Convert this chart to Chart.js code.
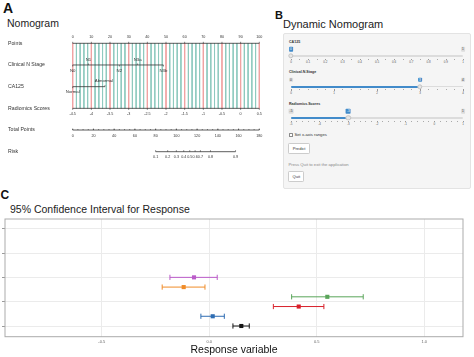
<!DOCTYPE html>
<html><head><meta charset="utf-8">
<script src="https://cdn.jsdelivr.net/npm/chart.js@4.4.1/dist/chart.umd.min.js"></script>
<style>
html,body{margin:0;padding:0;background:#fff;}
body{width:474px;height:357px;position:relative;overflow:hidden;font-family:"Liberation Sans",Arial,Helvetica,sans-serif;color:#222;}
.t{position:absolute;white-space:nowrap;line-height:1;}
canvas{position:absolute;}
#panelB{position:absolute;left:283px;top:33px;width:186px;height:154px;background:#f5f5f5;border:1px solid #e3e3e3;border-radius:2px;}
.c{position:absolute;white-space:nowrap;line-height:1;transform:translate(-50%,-50%);}
.l{position:absolute;white-space:nowrap;line-height:1;transform:translate(0,-50%);}
.b{position:absolute;}
</style></head><body>
<div class="t" style="left:3px;top:1.4px;font-size:14px;font-weight:bold;color:#111;">A</div>
<div class="t" style="left:7px;top:17.9px;font-size:10.5px;">Nomogram</div>
<div class="t" style="left:275px;top:9.6px;font-size:11px;font-weight:bold;color:#111;">B</div>
<div class="t" style="left:283px;top:18.8px;font-size:11px;">Dynamic Nomogram</div>
<div class="t" style="left:0.5px;top:189.1px;font-size:12px;font-weight:bold;color:#111;">C</div>
<div class="t" style="left:10px;top:203.9px;font-size:10.5px;">95% Confidence Interval for Response</div>
<canvas id="nomo" width="270" height="172" style="left:0;top:0;width:270px;height:172px"></canvas>
<div id="panelB"></div>
<canvas id="ci" width="474" height="143" style="left:0;top:214px;width:474px;height:143px"></canvas>
<script>
const FONT = '"Liberation Sans", Arial, sans-serif';

// ---------- Panel A: nomogram data ----------
const rowLabels = ['Points','Clinical N Stage','CA125','Radiomics Scores','Total Points','Risk'];
const pointsTicks = [0,10,20,30,40,50,60,70,80,90,100];
const gridPoints = [0,2,4,6,8,10,12,14,16,18,20,22,24,26,28,30,32,34,36,38,40,42,44,46,48,50,52,54,56,58,60,62,64,66,68,70,72,74,76,78,80,82,84,86,88,90,92,94,96,98,100];
const clinicalLevels = ['N0','N1','N2','N3a','N3b'];
const clinicalPoints = [0,8.4,25,34.8,48.6];
const ca125Levels = ['Normal','Abnormal'];
const ca125Points = [0,17.3];
const radiomicsTicks = [-4.5,-4,-3.5,-3,-2.5,-2,-1.5,-1,-0.5,0,0.5];
const totalPointsTicks = [0,20,40,60,80,100,120,140,160,180];
const riskLabels = ['0.1','0.2','0.3','0.4','0.5','0.6','0.7','0.8','0.9'];
const riskTotalPoints = [80,91.6,100,107.1,112.9,118.1,123.2,132.9,157.1];

// ---------- Panel B: dynamic nomogram inputs ----------
const sliderNames = ['CA125','Clinical.N.Stage','Radiomics.Scores'];
const sliderMin = [0,0,-5];
const sliderMax = [1,4,1];
const sliderValue = [0,3,-3];
const sliderTicks = [[0,0.1,0.2,0.3,0.4,0.5,0.6,0.7,0.8,0.9,1],[0,1,2,3,4],[-5,-4,-3,-2,-1,0,1]];

// ---------- Panel C: confidence intervals ----------
const ciRows = [1,2,3,4,5,6];
const ciEstimate = [0.149,0.016,0.416,0.549,-0.119,-0.071];
const ciLower = [0.110,-0.039,0.298,0.383,-0.219,-0.183];
const ciUpper = [0.186,0.070,0.533,0.716,-0.020,0.037];
const ciGridY = [1,3.5,6,8.5,11];
const ciColors = ['#151515','#2f6db3','#d8202b','#5aa55a','#f08c28','#bb5cc9'];

// ===== Panel A chart =====
function seg(axisId, xs, ys, color, width){
  return {data: xs.map((x,k)=>({x:x, y:ys[k]})), xAxisID: axisId, yAxisID:'y', showLine:true,
    borderColor:color, borderWidth:width, pointRadius:0, clip:false, fill:false};
}
const axisColor = '#333';
const axisDatasets = [
  seg('x', [pointsTicks[0], pointsTicks[pointsTicks.length-1]], [rowLabels[0],rowLabels[0]], axisColor, 0.8),
  seg('x', [clinicalPoints[0], clinicalPoints[clinicalPoints.length-1]], [rowLabels[1],rowLabels[1]], axisColor, 0.8),
  seg('x', [ca125Points[0], ca125Points[ca125Points.length-1]], [rowLabels[2],rowLabels[2]], axisColor, 0.8),
  seg('xRad', [radiomicsTicks[0], radiomicsTicks[radiomicsTicks.length-1]], [rowLabels[3],rowLabels[3]], axisColor, 0.8),
  seg('xTot', [totalPointsTicks[0], totalPointsTicks[totalPointsTicks.length-1]], [rowLabels[4],rowLabels[4]], axisColor, 0.8),
  seg('xTot', [riskTotalPoints[0], riskTotalPoints[riskTotalPoints.length-1]], [rowLabels[5],rowLabels[5]], axisColor, 0.8)
];
const gridDatasets = gridPoints.map(p => seg('x', [p,p], [rowLabels[0], rowLabels[3]], (p % 10 === 0) ? '#f0a3a3' : '#8fcabf', 1));

const nomoPlugin = {
  id: 'nomoTicks',
  afterDatasetsDraw(chart){
    const {ctx, scales} = chart;
    const xP = scales.x, xR = scales.xRad, xT = scales.xTot, yS = scales.y;
    const rowY = i => yS.getPixelForValue(i);
    const numFont = '3.7px ' + FONT, catFont = '4.3px ' + FONT;
    ctx.save();
    ctx.strokeStyle = axisColor; ctx.lineWidth = 0.6; ctx.fillStyle = '#333';
    ctx.textAlign = 'center'; ctx.textBaseline = 'middle';
    const tick = (x, y0, len) => { ctx.beginPath(); ctx.moveTo(x, y0); ctx.lineTo(x, y0 + len); ctx.stroke(); };
    const text = (s, x, y, f) => { ctx.font = f; ctx.fillText(s, x, y); };
    let ry = rowY(0);
    pointsTicks.forEach(v => { const px = xP.getPixelForValue(v); tick(px, ry, -1.5); text(String(v), px, ry - 6, numFont); });
    ry = rowY(1);
    clinicalLevels.forEach((lab, i) => { const px = xP.getPixelForValue(clinicalPoints[i]); const up = i % 2 === 1;
      tick(px, ry, up ? -1.5 : 1.5); text(lab, px, up ? ry - 5.3 : ry + 5.4, catFont); });
    ry = rowY(2);
    ca125Levels.forEach((lab, i) => { const px = xP.getPixelForValue(ca125Points[i]); const up = i % 2 === 1;
      tick(px, ry, up ? -1.5 : 1.5); text(lab, up ? px - 1 : px, up ? ry - 5.6 : ry + 5.4, catFont); });
    ry = rowY(3);
    radiomicsTicks.forEach(v => { const px = xR.getPixelForValue(v); tick(px, ry, 1.5); text(String(v), px, ry + 5.3, numFont); });
    ry = rowY(4);
    for (let v = totalPointsTicks[0]; v <= totalPointsTicks[totalPointsTicks.length-1]; v += 5) {
      tick(xT.getPixelForValue(v), ry, -1);
    }
    totalPointsTicks.forEach(v => { const px = xT.getPixelForValue(v); tick(px, ry, -1.5); text(String(v), px, ry + 6.4, numFont); });
    ry = rowY(5);
    riskTotalPoints.forEach((v, i) => { const px = xT.getPixelForValue(v); tick(px, ry, -1.5); text(riskLabels[i], px, ry + 5, numFont); });
    ctx.restore();
  }
};

new Chart(document.getElementById('nomo'), {
  type: 'scatter',
  data: { datasets: axisDatasets.concat(gridDatasets) },
  options: {
    responsive: false, animation: false, events: [],
    layout: { padding: { left: 8, right: 10.7, top: 43.3, bottom: 20.3 } },
    plugins: { legend: { display: false }, tooltip: { enabled: false }, title: { display: false } },
    scales: {
      x: { type: 'linear', min: 0, max: 100, display: false },
      xRad: { type: 'linear', axis: 'x', position: 'bottom', min: -4.5, max: 0.5, display: false },
      xTot: { type: 'linear', axis: 'x', position: 'bottom', min: 0, max: 180, display: false },
      y: { type: 'category', labels: rowLabels, offset: false, position: 'left',
        grid: { display: false, drawTicks: false }, border: { display: false },
        ticks: { crossAlign: 'far', color: '#333', font: { size: 5.2, family: FONT }, padding: 0, autoSkip: false },
        afterFit: s => { s.width = 64.7; } }
    }
  },
  plugins: [nomoPlugin]
});

// ===== Panel B (Shiny-like inputs) =====
const B = document.getElementById('panelB');
const OX = 284, OY = 34;
function el(cls, x, y, html, style){
  const d = document.createElement('div'); d.className = cls;
  d.style.left = (x - OX) + 'px'; d.style.top = (y - OY) + 'px';
  d.innerHTML = html; Object.assign(d.style, style || {}); B.appendChild(d); return d;
}
const trackX0 = 291, trackX1 = 463;
const sliderRowY = [42.7, 73.3, 104.5];
const minorPerGap = [1, 4, 4];
sliderNames.forEach((name, i) => {
  const L = sliderRowY[i];
  const toX = v => trackX0 + (v - sliderMin[i]) / (sliderMax[i] - sliderMin[i]) * (trackX1 - trackX0);
  el('l', 289, L, name, { fontSize: '3.6px', fontWeight: 'bold', color: '#333' });
  const bub = { fontSize: '3.2px', padding: '0.6px 1px', borderRadius: '0.8px' };
  if (sliderValue[i] !== sliderMin[i]) el('c', trackX0, L + 6.7, String(sliderMin[i]), Object.assign({}, bub, { background: 'rgba(0,0,0,0.1)', color: '#333' }));
  if (sliderValue[i] !== sliderMax[i]) el('c', trackX1, L + 6.7, String(sliderMax[i]), Object.assign({}, bub, { background: 'rgba(0,0,0,0.1)', color: '#333' }));
  const tY = L + 13.3;
  el('b', trackX0, tY - 0.9, '', { width: (trackX1 - trackX0) + 'px', height: '1.8px', background: '#dcdcdc', borderRadius: '1px' });
  const vx = toX(sliderValue[i]);
  el('b', trackX0, tY - 1, '', { width: (vx - trackX0) + 'px', height: '2px', background: '#428bca', borderRadius: '1px' });
  // grid ticks
  const tk = sliderTicks[i];
  tk.forEach((v, k) => {
    const x = toX(v);
    el('b', x - 0.25, L + 16, '', { width: '0.5px', height: '1.6px', background: '#999' });
    el('c', x, L + 19.4, String(v), { fontSize: '3px', color: '#555' });
    if (k < tk.length - 1) {
      const n = minorPerGap[i];
      for (let m = 1; m <= n; m++) {
        const xm = x + (toX(tk[k + 1]) - x) * m / (n + 1);
        el('b', xm - 0.25, L + 16, '', { width: '0.5px', height: '0.9px', background: '#aaa' });
      }
    }
  });
  el('c', vx, tY, '', { width: '5.4px', height: '5.4px', borderRadius: '50%', background: '#e6e6e6', border: '0.7px solid #c4c4c4', boxSizing: 'border-box', transform: 'translate(-50%,-50%)' });
  el('c', vx, L + 6.7, String(sliderValue[i]), Object.assign({}, bub, { background: '#428bca', color: '#fff' }));
});
el('b', 289, 133.2, '', { width: '3.6px', height: '3.6px', background: '#fff', border: '0.6px solid #8a8a8a', borderRadius: '0.5px', boxSizing: 'border-box' });
el('l', 294.5, 135, 'Set x-axis ranges', { fontSize: '4.2px', color: '#333' });
el('b', 288.3, 143.3, '<div style="position:absolute;left:50%;top:50%;transform:translate(-50%,-50%);white-space:nowrap;line-height:1;">Predict</div>', { width: '21.7px', height: '10.7px', background: '#fff', border: '0.5px solid #ccc', borderRadius: '1.2px', boxSizing: 'border-box', fontSize: '4.1px', color: '#333' });
el('l', 288.5, 165, 'Press Quit to exit the application', { fontSize: '4.2px', color: '#888' });
el('b', 288.3, 171.2, '<div style="position:absolute;left:50%;top:50%;transform:translate(-50%,-50%);white-space:nowrap;line-height:1;">Quit</div>', { width: '16px', height: '10.8px', background: '#fff', border: '0.5px solid #ccc', borderRadius: '1.2px', boxSizing: 'border-box', fontSize: '4.1px', color: '#333' });

// ===== Panel C chart =====
const intervalDatasets = ciRows.map((r, i) => ({
  data: [{ x: ciLower[i], y: r }, { x: ciUpper[i], y: r }], showLine: true,
  borderColor: ciColors[i], borderWidth: 1, pointStyle: 'line', pointRotation: 90, pointRadius: 2.6,
  pointBorderColor: ciColors[i], pointBorderWidth: 1, clip: false
}));
const estimateDatasets = ciRows.map((r, i) => ({
  data: [{ x: ciEstimate[i], y: r }], pointStyle: 'rect', pointRadius: 2.9,
  pointBackgroundColor: ciColors[i], pointBorderColor: ciColors[i], pointBorderWidth: 0, clip: false
}));
const framePlugin = {
  id: 'frame',
  afterDraw(chart){
    const a = chart.chartArea, ctx = chart.ctx;
    ctx.save(); ctx.strokeStyle = '#ababab'; ctx.lineWidth = 1;
    ctx.strokeRect(a.left, a.top, a.right - a.left, a.bottom - a.top); ctx.restore();
  }
};
new Chart(document.getElementById('ci'), {
  type: 'scatter',
  data: { datasets: estimateDatasets.concat(intervalDatasets) },
  options: {
    responsive: false, animation: false, events: [],
    layout: { padding: { left: 0, right: 11, top: 3, bottom: 0.4 } },
    plugins: { legend: { display: false }, tooltip: { enabled: false } },
    scales: {
      x: { type: 'linear', min: -0.95, max: 1.18,
        ticks: { stepSize: 0.5, includeBounds: false, callback: v => v.toFixed(1), font: { size: 4, family: FONT }, color: '#666', padding: 2.6, maxRotation: 0 },
        grid: { color: '#ebebeb', lineWidth: 1, drawTicks: false }, border: { display: false },
        title: { display: true, text: 'Response variable', font: { size: 10.5, family: FONT }, color: '#111', padding: 0 },
        afterFit: s => { s.height = 19.9; } },
      y: { type: 'linear', min: -0.1, max: 12,
        afterBuildTicks: s => { s.ticks = ciGridY.map(v => ({ value: v })); },
        ticks: { display: false },
        grid: { color: '#ebebeb', lineWidth: 1, tickLength: 3, tickColor: '#9a9a9a' }, border: { display: false },
        afterFit: s => { s.width = 5; } }
    }
  },
  plugins: [framePlugin]
});
</script>
</body></html>
